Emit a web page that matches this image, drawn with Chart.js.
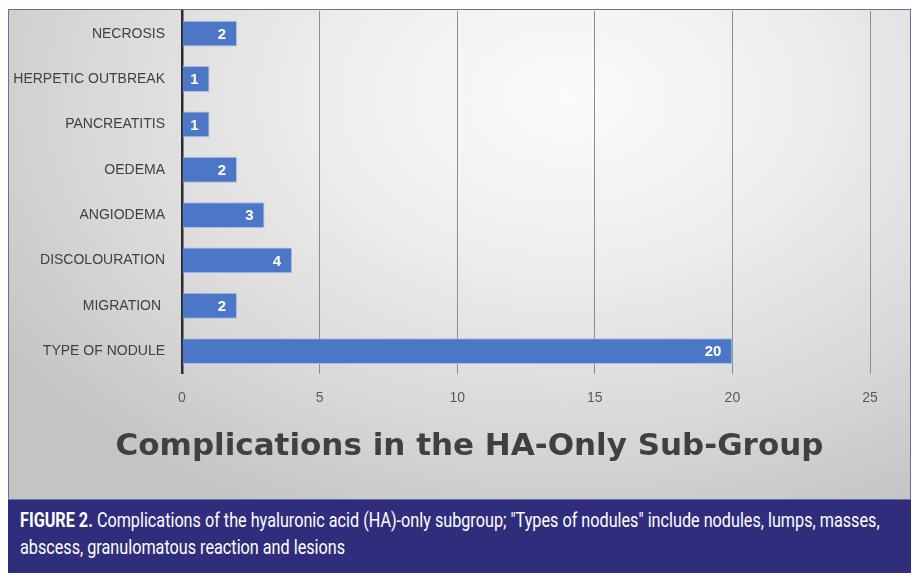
<!DOCTYPE html>
<html>
<head>
<meta charset="utf-8">
<script src="https://cdn.jsdelivr.net/npm/chart.js@4.4.1/dist/chart.umd.min.js"></script>
<style>
  html, body { margin: 0; padding: 0; background: #ffffff; width: 920px; height: 579px; overflow: hidden; }
  #panel {
    position: absolute; left: 8px; top: 9px; width: 901px; height: 489px;
    border: 1.5px solid #6d6aa8;
    background: radial-gradient(ellipse 75% 95% at 62% 18%, #fbfbfb 0%, #eeeeee 35%, #d6d6d6 75%, #c4c4c4 100%);
  }
  #wrap { position: absolute; left: 10px; top: 10px; width: 900px; height: 488px; }
  #caption {
    position: absolute; left: 8px; top: 500px; width: 903px; height: 73px;
    background: #302e7c; color: #ffffff; overflow: hidden;
  }
  #captext {
    position: absolute; left: 12px; top: 7px; white-space: nowrap;
    font-family: Roboto, "Liberation Sans", sans-serif; font-size: 20px; line-height: 27px;
    transform: scaleX(0.81); transform-origin: 0 0;
  }
  #captext b { font-weight: 700; }
</style>
</head>
<body>
<div id="panel"></div>
<div id="wrap"><canvas id="c" width="900" height="488"></canvas></div>
<div id="caption"><div id="captext"><b>FIGURE 2.</b> Complications of the hyaluronic acid (HA)-only subgroup; "Types of nodules" include nodules, lumps, masses,<br>abscess, granulomatous reaction and lesions</div></div>
<script>
const categories = ["NECROSIS", "HERPETIC OUTBREAK", "PANCREATITIS", "OEDEMA", "ANGIODEMA", "DISCOLOURATION", "MIGRATION ", "TYPE OF NODULE"];
const counts = [2, 1, 1, 2, 3, 4, 2, 20];
const xTicks = [0, 5, 10, 15, 20, 25];
const chartTitle = "Complications in the HA-Only Sub-Group";

const barLabels = {
  id: 'barLabels',
  afterLayout(chart) {
    // centre the title over the figure rather than over the full canvas width
    if (chart.titleBlock) { chart.titleBlock.left = 59; }
  },
  afterDatasetsDraw(chart) {
    const ctx = chart.ctx;
    const meta = chart.getDatasetMeta(0);
    ctx.save();
    ctx.fillStyle = '#ffffff';
    ctx.font = 'bold 15px "Liberation Sans", sans-serif';
    ctx.textAlign = 'right';
    ctx.textBaseline = 'middle';
    meta.data.forEach((el, i) => {
      ctx.fillText(String(chart.data.datasets[0].data[i]), el.x - 11, el.y + 1);
    });
    ctx.restore();
  }
};

new Chart(document.getElementById('c'), {
  type: 'bar',
  data: {
    labels: categories,
    datasets: [{
      data: counts,
      backgroundColor: '#4b77c6',
      borderColor: '#a9bfe6',
      borderWidth: 1,
      barPercentage: 0.57,
      categoryPercentage: 1.0
    }]
  },
  options: {
    indexAxis: 'y',
    responsive: false,
    animation: false,
    layout: { padding: { left: 0, right: 40, top: 1, bottom: 0 } },
    plugins: {
      legend: { display: false },
      tooltip: { enabled: false },
      title: {
        display: true,
        position: 'bottom',
        text: chartTitle,
        color: '#404040',
        font: { family: '"DejaVu Sans", sans-serif', size: 31, weight: 'bold', lineHeight: 1.2 },
        padding: { top: 17, bottom: 32 }
      }
    },
    scales: {
      x: {
        type: 'linear',
        min: 0, max: 25,
        afterBuildTicks(scale) { scale.ticks = xTicks.map(v => ({ value: v })); },
        afterFit(scale) { scale.height = 38; scale.paddingLeft = 0; scale.paddingRight = 0; },
        grid: { color: '#8c8c8c', lineWidth: 1, drawTicks: false },
        border: { display: false },
        ticks: { color: '#595959', padding: 16, font: { family: '"Liberation Sans", sans-serif', size: 14 } }
      },
      y: {
        afterFit(scale) { scale.width = 172; scale.paddingTop = 0; scale.paddingBottom = 0; },
        grid: { display: false, drawTicks: false },
        border: { display: true, color: '#2b2b2b', width: 2.5 },
        ticks: { color: '#404040', padding: 17, font: { family: '"Liberation Sans", sans-serif', size: 14 } }
      }
    }
  },
  plugins: [barLabels]
});
</script>
</body>
</html>
